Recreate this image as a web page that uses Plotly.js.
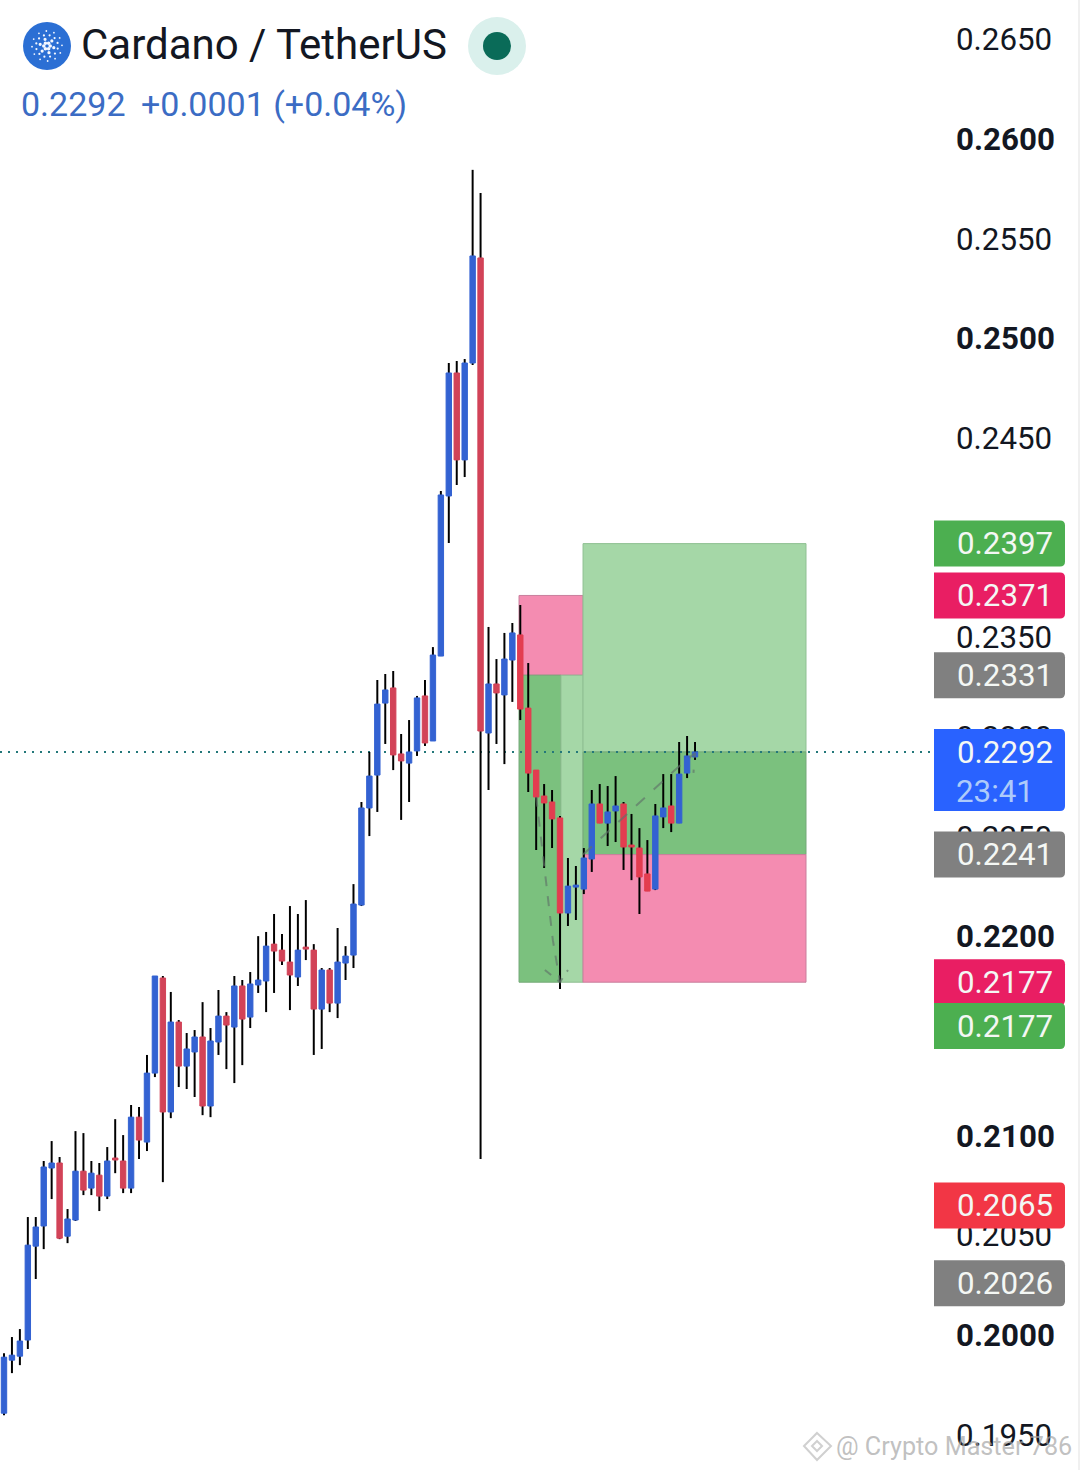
<!DOCTYPE html>
<html><head><meta charset="utf-8">
<script src="https://cdn.plot.ly/plotly-3.0.1.min.js"></script>
<style>html,body{margin:0;padding:0;background:#fff}#chart{width:1080px;height:1470px}</style>
</head><body><div id="chart"></div>
<script>
// ---- chart data: one value per candle ----
const opens = [.19608,.19874,.19894,.19975,.20446,.20547,.20838,.20863,.20496,.20577,.20822,.20737,.20802,.20697,.20888,.20873,.20737,.21093,.20968,.21314,.21791,.21119,.21570,.21349,.21420,.21495,.21149,.21470,.21600,.21545,.21751,.21595,.21756,.21776,.21961,.21931,.21871,.21796,.21946,.21931,.21635,.21831,.21665,.21866,.21906,.22157,.22644,.22809,.23170,.23246,.22915,.22869,.22930,.23206,.22980,.23406,.24209,.24826,.24390,.24876,.25403,.23020,.23266,.23211,.23386,.23512,.23145,.22834,.22704,.22674,.22594,.22117,.22247,.22237,.22388,.22664,.22568,.22629,.22664,.22458,.22443,.22313,.22237,.22599,.22654,.22568,.22819,.22900];
const highs = [.19909,.19990,.20030,.20592,.20592,.20873,.20973,.20893,.20632,.21023,.21013,.20873,.20863,.20943,.21083,.21003,.21154,.21144,.21405,.21801,.21801,.21721,.21580,.21515,.21530,.21670,.21540,.21731,.21620,.21801,.21781,.21821,.22001,.22022,.22112,.22012,.22152,.22112,.22182,.21961,.21841,.21841,.22042,.21951,.22262,.22674,.22925,.23286,.23316,.23331,.23015,.23085,.23206,.23286,.23451,.24234,.24876,.24886,.24896,.25845,.25729,.23552,.23391,.23522,.23572,.23662,.23371,.22834,.22764,.22734,.22604,.22393,.22353,.22443,.22734,.22764,.22754,.22804,.22674,.22614,.22543,.22483,.22664,.22814,.22814,.22975,.23005,.22975];
const lows = [.19598,.19809,.19849,.19930,.20281,.20431,.20682,.20481,.20461,.20572,.20702,.20702,.20622,.20682,.20812,.20712,.20712,.20883,.20923,.21294,.20767,.21088,.21244,.21234,.21194,.21103,.21093,.21405,.21334,.21264,.21354,.21540,.21716,.21620,.21716,.21856,.21630,.21751,.21881,.21405,.21435,.21620,.21590,.21781,.21841,.22152,.22503,.22624,.22965,.22834,.22584,.22674,.22905,.22955,.22980,.23406,.23973,.24264,.24304,.24866,.20883,.22734,.22965,.22864,.23176,.23085,.22724,.22433,.22343,.22443,.21736,.22052,.22082,.22212,.22323,.22568,.22453,.22473,.22333,.22282,.22112,.22227,.22232,.22543,.22523,.22568,.22794,.22885];
const closes = [.19889,.19899,.19970,.20451,.20542,.20843,.20863,.20486,.20582,.20822,.20727,.20812,.20697,.20873,.20878,.20737,.21093,.20978,.21314,.21801,.21119,.21570,.21349,.21435,.21495,.21149,.21475,.21600,.21555,.21751,.21585,.21761,.21781,.21951,.21926,.21876,.21806,.21931,.21936,.21635,.21831,.21665,.21871,.21901,.22162,.22644,.22804,.23165,.23236,.22910,.22880,.22925,.23196,.22970,.23411,.24214,.24826,.24390,.24876,.25413,.23030,.23266,.23221,.23391,.23522,.23140,.22819,.22699,.22669,.22589,.22117,.22252,.22257,.22393,.22664,.22568,.22624,.22654,.22448,.22448,.22298,.22227,.22604,.22644,.22568,.22814,.22905,.22925];
const barIndex = opens.map((_, i) => i);

const tickValues = [.265,.26,.255,.25,.245,.235,.23,.225,.22,.21,.205,.20,.195];
const tickLabels = ['0.2650','<b>0.2600</b>','0.2550','<b>0.2500</b>','0.2450','0.2350','0.2300','0.2250','<b>0.2200</b>','<b>0.2100</b>','0.2050','<b>0.2000</b>','0.1950'];

// drawing-tool zones, as bar index ranges and price ranges
const zoneBars = {leftStart: 64.84, leftSplit: 70.12, split: 72.9, rightEnd: 100.97, lineEnd: 116.83};
const zonePrices = {tpTop: .2397, last: .22925, entry: .2241, stop: .2177, leftTop: .2371, leftMid: .2331};

// hand-drawn dashed path
const pathAX = [67, 68.1, 69.1, 70];
const pathAY = [.2270, .22318, .21981, .2177];
const headX = [68.1, 70, 71];
const headY = [.21831, .2177, .21831];
const pathBX = [72.9, 79.4, 84.9, 87, 86.8];
const pathBY = [.2241, .2265, .2285, .2292, .2282];

// price badges on the axis
const badgeText = ['0.2397','0.2371','0.2331','0.2292','0.2241','0.2177','0.2177','0.2065','0.2026'];
const badgePrice = [.2397,.2371,.2331,.2292,.2241,.2177,.2155,.2065,.2026];
const badgeColor = ['#4caf50','#e91e63','#808080','#2962ff','#808080','#e91e63','#4caf50','#f23645','#808080'];

const BLUE = '#3362d2', RED = '#d24358', RED2 = '#e33d50', W = 1080, H = 1470, PW = 950, RECENT = 65;
const px = x => x / PW, py = y => 1 - y / H;
const up = opens.map((o, i) => closes[i] >= o);
const bodyTop = opens.map((o, i) => Math.max(o, closes[i]));
const bodyBot = opens.map((o, i) => Math.min(o, closes[i]));

const hl = {hoverinfo: 'skip', showlegend: false};
const bodies = (ids, red) => ({type:'candlestick', x:ids, open:ids.map(i=>up[i]?bodyBot[i]:bodyTop[i]), high:ids.map(i=>bodyTop[i]), low:ids.map(i=>bodyBot[i]),
   close:ids.map(i=>up[i]?bodyTop[i]:bodyBot[i]), whiskerwidth:0,
   increasing:{line:{color:BLUE,width:1},fillcolor:BLUE}, decreasing:{line:{color:red,width:1},fillcolor:red}, ...hl});
const traces = [
  {type:'bar', x:barIndex, base:lows, y:highs.map((h,i)=>h-lows[i]), width:.25, marker:{color:'#000',line:{width:0}}, ...hl},
  {type:'scatter', mode:'lines', x:pathAX, y:pathAY, line:{color:'rgba(95,115,105,.65)',width:2,dash:'10px,10px'}, ...hl},
  {type:'scatter', mode:'lines', x:headX, y:headY, line:{color:'rgba(95,115,105,.65)',width:2,dash:'8px,8px'}, ...hl},
  {type:'scatter', mode:'lines', x:pathBX, y:pathBY, line:{color:'rgba(95,115,105,.65)',width:2,dash:'12px,12px'}, ...hl},
  bodies(barIndex.filter(i=>i<RECENT), RED),
  bodies(barIndex.filter(i=>i>=RECENT), RED2)
];

const rect = (x0,x1,y0,y1,fill,border) => ({type:'rect',xref:'x',yref:'y',x0,x1,y0,y1,layer:'below',fillcolor:fill,line:{color:border||fill,width:1}});
const z = zoneBars, p = zonePrices;
const shapes = [
  rect(z.leftStart,z.split,p.leftMid,p.leftTop,'#f48cb1','#c97f9c'),
  rect(z.leftStart,z.leftSplit,p.stop,p.leftMid,'#7bc17e','#74a878'),
  rect(z.leftSplit,z.split,p.stop,p.leftMid,'#a5d7a7','#8fbd92'),
  rect(z.split,z.rightEnd,p.last,p.tpTop,'#a5d7a7','#8fc093'),
  rect(z.split,z.rightEnd,p.entry,p.last,'#7bc17e','#74a878'),
  rect(z.split,z.rightEnd,p.stop,p.entry,'#f48cb1','#c97f9c'),
  {type:'line',layer:'below',xref:'x',yref:'y',x0:-.5036,x1:z.lineEnd,y0:p.last,y1:p.last,line:{color:'#24787a',width:2,dash:'2px,6px'}},
  {type:'line',layer:'above',xref:'paper',yref:'paper',x0:px(1079),x1:px(1079),y0:0,y1:1,line:{color:'#f0f0f0',width:2}}
];

// badges: rounded rectangles anchored on their price
function badgePath(top, bottom){
  const l=-16, r=115, a=5;
  return `M ${l} ${top} L ${r-a} ${top} Q ${r} ${top} ${r} ${top-a} L ${r} ${bottom+a} Q ${r} ${bottom} ${r-a} ${bottom} L ${l} ${bottom} Z`;
}
badgeText.forEach((t,i)=>{
  const tall = i===3;
  shapes.push({type:'path',layer:'above',xref:'paper',yref:'y',xsizemode:'pixel',ysizemode:'pixel',
    xanchor:1,yanchor:badgePrice[i],path:tall?badgePath(24,-58):badgePath(23,-23),fillcolor:badgeColor[i],line:{width:0}});
});

// header logo and status dot
const circle=(cx,cy,r,fill)=>({type:'circle',layer:'above',xref:'paper',yref:'paper',x0:px(cx-r),x1:px(cx+r),y0:py(cy+r),y1:py(cy-r),fillcolor:fill,line:{width:0}});
shapes.push(circle(47,46,24,'#2b6fd4'));
[[0,3.2,1.8,6],[6,7,1.6,6],[6,11,1.1,12],[12,15,.9,12]].forEach(([off,r,s,n])=>{
  for(let k=0;k<n;k++){
    const t=(k/n)*2*Math.PI+off*.04;
    shapes.push(circle(47+r*Math.cos(t),46+r*Math.sin(t),s,'#f4f8ff'));
  }
});
shapes.push(circle(497,46,29,'#daf0ec'), circle(497,46,14,'#0a6b58'));
// watermark mark
const wm='rgba(170,170,170,.55)';
shapes.push({type:'path',layer:'above',xref:'paper',yref:'paper',
  path:`M ${px(817)} ${py(1433)} L ${px(831)} ${py(1446)} L ${px(817)} ${py(1460)} L ${px(804)} ${py(1446)} Z`,
  fillcolor:'rgba(0,0,0,0)',line:{color:wm,width:2}});
shapes.push({type:'path',layer:'above',xref:'paper',yref:'paper',
  path:`M ${px(817)} ${py(1441)} L ${px(822)} ${py(1446)} L ${px(817)} ${py(1451)} L ${px(812)} ${py(1446)} Z`,
  fillcolor:'rgba(0,0,0,0)',line:{color:wm,width:2}});

const txt=(text,x,y,size,color)=>({text,xref:'paper',yref:'paper',x:px(x),y:py(y),xanchor:'left',yanchor:'middle',showarrow:false,
  font:{family:'Roboto',size,color},borderpad:0});
const annotations=[
  txt('Cardano / TetherUS',80,44.5,42,'#131722'),
  txt('0.2292',20,104,34,'#3b6cc4'),
  txt('+0.0001 (+0.04%)',140,104,34,'#3b6cc4'),
  txt('23:41',955,791,31.3,'#aecbfa'),
  txt('@ Crypto Master 786',835,1446,25.2,'rgba(165,165,165,.7)')
];
badgeText.forEach((t,i)=>{
  annotations.push({text:t,xref:'paper',yref:'y',x:px(955),y:badgePrice[i],xanchor:'left',yanchor:'middle',showarrow:false,
    font:{family:'Roboto',size:31.3,color:'#f4f7f4'}});
});

const layout={
  width:W,height:H,margin:{l:0,r:W-PW,t:0,b:0,pad:0},paper_bgcolor:'#fff',plot_bgcolor:'#fff',showlegend:false,boxgap:.32,boxgroupgap:0,barmode:'overlay',
  xaxis:{type:'linear',range:[-.5036,119.1],visible:false,fixedrange:true,rangeslider:{visible:false}},
  yaxis:{side:'right',range:[.19323,.26697],tickmode:'array',tickvals:tickValues,ticktext:tickLabels,showgrid:false,zeroline:false,
    showline:false,ticks:'',ticklabelstandoff:5,fixedrange:true,automargin:false,tickfont:{family:'Roboto',size:31.3,color:'#131722'}},
  shapes,annotations
};
Plotly.newPlot('chart',traces,layout,{displayModeBar:false,staticPlot:true});
</script></body></html>
